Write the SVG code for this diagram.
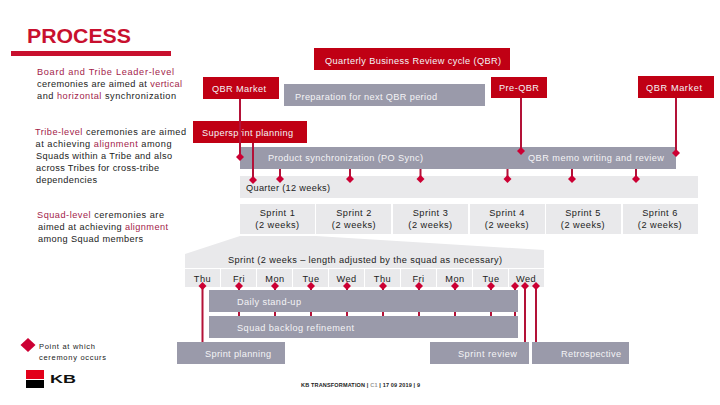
<svg xmlns="http://www.w3.org/2000/svg" width="720" height="405" viewBox="0 0 720 405">
<style>
text{font-family:"Liberation Sans",Arial,sans-serif;font-size:9.200px;fill:#222}
.w{fill:#f4f4f6}.a{fill:#a31c4a}
.r{fill:#c00014}.g{fill:#9a9aaa}.l{fill:#e9e9eb}
.m{text-anchor:middle;letter-spacing:.5px}
.s{stroke:#b31238;stroke-width:2;fill:none}
.d{fill:#cc0033}
</style>
<defs><path id="dm" d="M0-4 4 0 0 4-4 0Z" class="d"/></defs>
<rect width="720" height="405" fill="#fff"/>
<g id="title">
<text x="27" y="43" textLength="104" lengthAdjust="spacingAndGlyphs" style="font-size:20px;font-weight:bold;fill:#c8102e">PROCESS</text>
<rect x="11" y="51" width="160" height="5" fill="#c8102e"/>
</g>
<g id="notes">
<text x="37" y="75" textLength="137"><tspan class="a">Board and Tribe Leader-level</tspan></text>
<text x="37" y="87" textLength="145">ceremonies are aimed at <tspan class="a">vertical</tspan></text>
<text x="37" y="99" textLength="139">and <tspan class="a">horizontal</tspan> synchronization</text>
<text x="35" y="135" textLength="151"><tspan class="a">Tribe-level</tspan> ceremonies are aimed</text>
<text x="35.500" y="147" textLength="136">at achieving <tspan class="a">alignment</tspan> among</text>
<text x="36" y="159" textLength="136">Squads within a Tribe and also</text>
<text x="36" y="171" textLength="123">across Tribes for cross-tribe</text>
<text x="36" y="183" textLength="61">dependencies</text>
<text x="37" y="218" textLength="127"><tspan class="a">Squad-level</tspan> ceremonies are</text>
<text x="38" y="230" textLength="130">aimed at achieving <tspan class="a">alignment</tspan></text>
<text x="38" y="242" textLength="105">among Squad members</text>
</g>
<g id="quarterly"><rect class="r" x="314" y="48" width="196" height="22"/><text class="w" x="325" y="64" textLength="176">Quarterly Business Review cycle (QBR)</text></g>
<g id="qbr-market-1"><rect class="r" x="203" y="77" width="76" height="22"/><text class="w" x="212" y="92" textLength="54">QBR Market</text></g>
<g id="preparation"><rect class="g" x="284" y="84" width="201" height="22"/><text class="w" x="295" y="100" textLength="142">Preparation for next QBR period</text></g>
<g id="pre-qbr"><rect class="r" x="491" y="77" width="56" height="21"/><text class="w" x="499" y="91" textLength="40">Pre-QBR</text></g>
<g id="qbr-market-2"><rect class="r" x="638" y="76" width="76" height="22"/><text class="w" x="646" y="91" textLength="56">QBR Market</text></g>
<g id="supersprint"><rect class="r" x="193" y="121" width="114" height="22"/><text class="w" x="202" y="136" textLength="91">Supersprint planning</text></g>
<g id="product-sync"><rect class="g" x="240" y="147" width="436" height="22"/><text class="w" x="268" y="161" textLength="155">Product synchronization (PO Sync)</text><text class="w" x="528" y="161" textLength="136">QBR memo writing and review</text></g>
<g id="quarter"><rect class="l" x="240" y="176" width="458" height="22"/><text x="246" y="191" textLength="84">Quarter (12 weeks)</text></g>
<g id="sprint-1"><rect class="l" x="240" y="204" width="75" height="30"/><text class="m" x="277.500" y="216">Sprint 1</text><text class="m" x="277.500" y="228">(2 weeks)</text></g>
<g id="sprint-2"><rect class="l" x="316" y="204" width="75" height="30"/><text class="m" x="354" y="216">Sprint 2</text><text class="m" x="354" y="228">(2 weeks)</text></g>
<g id="sprint-3"><rect class="l" x="393" y="204" width="75" height="30"/><text class="m" x="430.500" y="216">Sprint 3</text><text class="m" x="430.500" y="228">(2 weeks)</text></g>
<g id="sprint-4"><rect class="l" x="470" y="204" width="75" height="30"/><text class="m" x="507" y="216">Sprint 4</text><text class="m" x="507" y="228">(2 weeks)</text></g>
<g id="sprint-5"><rect class="l" x="546" y="204" width="75" height="30"/><text class="m" x="583" y="216">Sprint 5</text><text class="m" x="583" y="228">(2 weeks)</text></g>
<g id="sprint-6"><rect class="l" x="623" y="204" width="75" height="30"/><text class="m" x="660" y="216">Sprint 6</text><text class="m" x="660" y="228">(2 weeks)</text></g>
<g id="sprint-detail"><path class="l" d="M240 236 185 254V268H544V250L316 236Z"/><text x="228" y="263" textLength="274">Sprint (2 weeks – length adjusted by the squad as necessary)</text></g>
<g id="days">
<rect class="l" x="185" y="269" width="35" height="18"/><rect class="l" x="221" y="269" width="35" height="18"/><rect class="l" x="257" y="269" width="35" height="18"/><rect class="l" x="293" y="269" width="35" height="18"/><rect class="l" x="329" y="269" width="35" height="18"/><rect class="l" x="365" y="269" width="35" height="18"/><rect class="l" x="401" y="269" width="35" height="18"/><rect class="l" x="437" y="269" width="35" height="18"/><rect class="l" x="473" y="269" width="35" height="18"/><rect class="l" x="509" y="269" width="35" height="18"/>
<text class="m" x="202.500" y="282">Thu</text><text class="m" x="239" y="282">Fri</text><text class="m" x="275" y="282">Mon</text><text class="m" x="311" y="282">Tue</text><text class="m" x="346.500" y="282">Wed</text><text class="m" x="382.500" y="282">Thu</text><text class="m" x="418.500" y="282">Fri</text><text class="m" x="455" y="282">Mon</text><text class="m" x="491" y="282">Tue</text><text class="m" x="526" y="282">Wed</text>
</g>
<g id="daily"><rect class="g" x="209" y="290" width="309" height="22"/><text class="w" x="237" y="305" textLength="64">Daily stand-up</text></g>
<g id="backlog"><rect class="g" x="209" y="316" width="309" height="22"/><text class="w" x="237" y="331" textLength="117">Squad backlog refinement</text></g>
<g id="sprint-planning"><rect class="g" x="177" y="342" width="108" height="22"/><text class="w" x="205" y="357" textLength="66">Sprint planning</text></g>
<g id="sprint-review"><rect class="g" x="430" y="342" width="99" height="22"/><text class="w" x="458" y="357" textLength="59">Sprint review</text></g>
<g id="retrospective"><rect class="g" x="532" y="342" width="97" height="22"/><text class="w" x="561" y="357" textLength="60">Retrospective</text></g>
<g id="connectors">
<path class="s" d="M240 99V157M253 143V180M280 169V179M350 169V179M420.500 169V179M507.500 169V179M572 169V179M636 169V179M521 98V151M676 98V153M202.500 286V342M525 286V342M536 286V342"/>
<path class="s" d="M239 287V290M275 287V290M311 287V290M347 287V290M383 287V290M419 287V290M455 287V290M491 287V290M515 287V290M239 312V316M275 312V316M311 312V316M347 312V316M383 312V316M419 312V316M455 312V316M491 312V316M515 312V316"/>
<use href="#dm" x="240" y="157"/><use href="#dm" x="253" y="180"/><use href="#dm" x="280" y="179"/><use href="#dm" x="350" y="179"/><use href="#dm" x="420.500" y="179"/><use href="#dm" x="507.500" y="179"/><use href="#dm" x="572" y="179"/><use href="#dm" x="636" y="179"/><use href="#dm" x="521" y="151"/><use href="#dm" x="676" y="153"/>
<use href="#dm" x="202.500" y="286"/><use href="#dm" x="239" y="286"/><use href="#dm" x="275" y="286"/><use href="#dm" x="311" y="286"/><use href="#dm" x="347" y="286"/><use href="#dm" x="383" y="286"/><use href="#dm" x="419" y="286"/><use href="#dm" x="455" y="286"/><use href="#dm" x="491" y="286"/><use href="#dm" x="515" y="286"/><use href="#dm" x="525" y="286"/><use href="#dm" x="536" y="286"/>
</g>
<g id="legend">
<path class="d" d="M28 338 35.500 345 28 352 20.500 345Z"/>
<text x="39" y="349" textLength="56" style="font-size:7.500px">Point at which</text>
<text x="39" y="360" textLength="67" style="font-size:7.500px">ceremony occurs</text>
</g>
<g id="logo">
<rect x="26" y="370" width="18" height="9" fill="#e2001a"/><rect x="26" y="380" width="18" height="8" fill="#000"/>
<text x="50" y="383" textLength="26" lengthAdjust="spacingAndGlyphs" style="font-size:11px;font-weight:bold;fill:#111">KB</text>
</g>
<g id="footer"><text x="301" y="387" textLength="119" style="font-size:5.500px;font-weight:bold">KB TRANSFORMATION | <tspan fill="#999">C1</tspan> | 17 09 2019 | 9</text></g>
</svg>
